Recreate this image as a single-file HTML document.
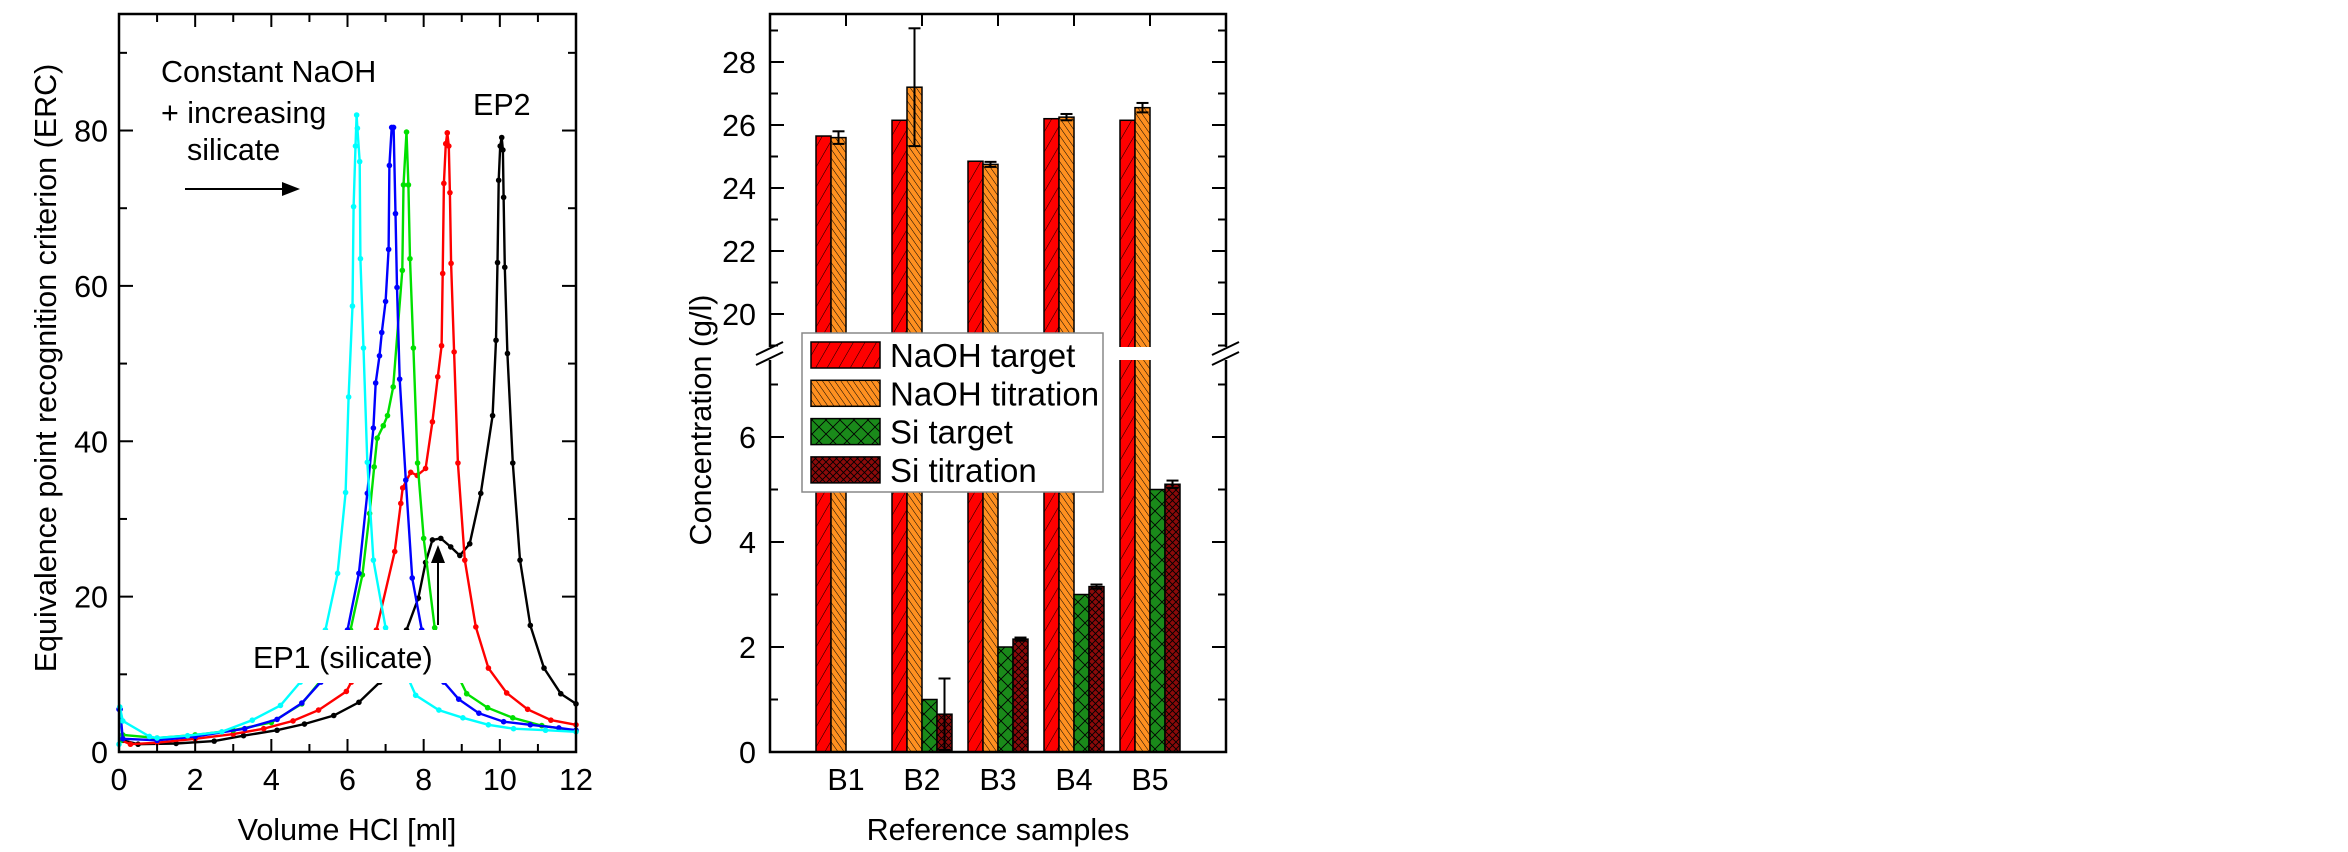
<!DOCTYPE html>
<html><head><meta charset="utf-8"><style>
html,body{margin:0;padding:0;background:#fff;}
svg{display:block;font-family:"Liberation Sans",Arial,sans-serif;}
</style></head><body>
<svg id="chart" width="2348" height="852" viewBox="0 0 2348 852" xmlns="http://www.w3.org/2000/svg">
<defs>
<pattern id="pRed" patternUnits="userSpaceOnUse" width="10" height="10" patternTransform="rotate(30)"><rect width="10" height="10" fill="#ff0000"/><line x1="0" y1="0" x2="0" y2="10" stroke="#000" stroke-width="1"/></pattern>
<pattern id="pOr" patternUnits="userSpaceOnUse" width="5" height="5" patternTransform="rotate(-35)"><rect width="5" height="5" fill="#ff9020"/><line x1="0" y1="0" x2="0" y2="5" stroke="#000" stroke-width="1"/></pattern>
<pattern id="pGr" patternUnits="userSpaceOnUse" width="14" height="14"><rect width="14" height="14" fill="#1a8a1a"/><path d="M0 0L14 14M14 0L0 14" stroke="#000" stroke-width="0.9"/></pattern>
<pattern id="pDr" patternUnits="userSpaceOnUse" width="7" height="7"><rect width="7" height="7" fill="#8b0a0a"/><path d="M0 0L7 7M7 0L0 7" stroke="#000" stroke-width="0.9"/></pattern>
</defs>
<g id="left"></g>
<g id="right"></g>
</svg>
<script>
const NS='http://www.w3.org/2000/svg';
// ---- Left chart data ----
const cyanX=[0,0.02,0.1,0.8,1.0,1.8,2.7,3.5,4.24,4.76,5.42,5.74,5.95,6.03,6.13,6.16,6.21,6.24,6.26,6.32,6.34,6.42,6.52,6.68,7.0,7.79,8.4,9.03,9.7,10.36,11.2,12];
const cyanY=[1,5.8,4.0,2.0,1.8,2.1,2.6,4.1,6.0,9.0,15.7,23,33.4,45.7,57.4,70.2,78,82,80.3,76,63.5,52,37.3,24.7,16,7.3,5.4,4.4,3.5,3.0,2.8,2.6];
const blueX=[0,0.03,0.1,1.0,2.0,3.3,4.15,4.8,5.3,6.0,6.3,6.52,6.68,6.74,6.84,6.9,7.0,7.08,7.1,7.16,7.21,7.26,7.3,7.37,7.53,7.7,7.95,8.53,8.92,9.45,10.1,10.8,11.55,12];
const blueY=[5.5,5.5,1.7,1.5,2.0,3.0,4.2,6.3,9,15.7,23,33.3,41.7,47.5,51,54,58,64.7,75.5,80.4,80.4,69.3,59.8,48,35,22.4,15.7,9,6.8,5,3.9,3.5,3.1,2.8];
const greenX=[0.05,0.1,1.0,2.0,3.0,4.0,4.8,5.3,6.08,6.39,6.58,6.7,6.78,6.94,7.05,7.2,7.44,7.47,7.55,7.6,7.64,7.73,7.84,8.0,8.29,9.13,9.68,10.34,11.1,12];
const greenY=[1.5,2.2,1.8,2.2,2.8,3.8,6.2,9.2,15.7,22.8,30.7,36.7,40.4,42,43.3,47,62,73,79.8,73,63.5,52,37.2,27.5,16,7.5,5.7,4.4,3.4,2.7];
const redX=[0.05,0.3,1.0,2.0,3.0,3.8,4.57,5.24,5.97,6.1,6.76,7.24,7.4,7.45,7.66,7.83,8.05,8.23,8.37,8.47,8.5,8.53,8.58,8.62,8.66,8.69,8.72,8.8,8.9,9.08,9.37,9.7,10.18,10.73,11.34,12];
const redY=[1.5,1.0,1.2,1.7,2.3,3.0,4.0,5.4,7.8,9,15.7,25.8,32,34,36,35.6,36.5,42.5,48.3,52.3,61.6,73.2,78.3,79.7,78,72,62.9,51.5,37.2,24.7,16.1,10.8,7.6,5.5,4.1,3.5];
const blackX=[0.1,0.5,1.5,2.5,3.27,4.15,4.87,5.64,6.3,6.85,7.55,7.86,8.05,8.23,8.45,8.71,8.95,9.21,9.5,9.81,9.9,9.94,9.97,10.01,10.05,10.08,10.1,10.13,10.2,10.34,10.53,10.8,11.16,11.6,12];
const blackY=[1.5,1.0,1.1,1.4,2.1,2.8,3.6,4.7,6.4,9,15.7,19.8,24.4,27.3,27.5,26.4,25.3,26.8,33.3,43.3,53,63,73.6,78,79.1,77.5,71.4,62.4,51.3,37.2,24.7,16.3,10.8,7.5,6.2];
const xTicksL=[0,2,4,6,8,10,12];
const yTicksL=[0,20,40,60,80];
// ---- Right chart data ----
const samples=['B1','B2','B3','B4','B5'];
const naohTarget=[25.65,26.15,24.85,26.2,26.15];
const naohTitr=[25.6,27.2,24.75,26.25,26.55];
const naohTitrErr=[0.2,1.87,0.08,0.1,0.15];
const siTarget=[0,1.0,2.0,3.0,5.0];
const siTitr=[0,0.72,2.15,3.15,5.1];
const siTitrErr=[0,0.68,0.03,0.04,0.07];
const yTicksUpper=[20,22,24,26,28];
const yTicksLower=[0,2,4,6];

const FS=30.5;
function el(tag,attrs,parent,text){const e=document.createElementNS(NS,tag);for(const k in attrs)e.setAttribute(k,attrs[k]);if(text!==undefined)e.textContent=text;parent.appendChild(e);return e;}

// ===== LEFT =====
const L=document.getElementById('left');
const X0=119,X1=576,Y0=752,Y1=14;
const xs=v=>X0+v*(X1-X0)/12;
const ys=v=>Y0-v*(Y0-Y1)/95;
const series=[[blackX,blackY,'#000000','black'],[redX,redY,'#ff0000','red'],[greenX,greenY,'#00e000','green'],[blueX,blueY,'#0000ff','blue'],[cyanX,cyanY,'#00ffff','cyan']];
series.forEach(s=>{
  const g=el('g',{},L);
  
  
  const pts=s[0].map((x,i)=>xs(x).toFixed(1)+','+ys(s[1][i]).toFixed(1)).join(' ');
  el('polyline',{points:pts,fill:'none',stroke:s[2],'stroke-width':2.4},g);
  s[0].forEach((x,i)=>{el('circle',{cx:xs(x),cy:ys(s[1][i]),r:2.8,fill:s[2]},g);});
});
const fr=el('rect',{x:X0,y:Y1,width:X1-X0,height:Y0-Y1,fill:'none',stroke:'#000','stroke-width':2.5},L);

for(let v=0;v<=12;v++){const big=v%2===0,len=big?13:8;
  el('line',{x1:xs(v),y1:Y0,x2:xs(v),y2:Y0-len,stroke:'#000','stroke-width':2},L);
  el('line',{x1:xs(v),y1:Y1,x2:xs(v),y2:Y1+len,stroke:'#000','stroke-width':2},L);}
for(let v=0;v<=90;v+=10){const big=v%20===0,len=big?14:8;
  el('line',{x1:X0,y1:ys(v),x2:X0+len,y2:ys(v),stroke:'#000','stroke-width':2},L);
  el('line',{x1:X1,y1:ys(v),x2:X1-len,y2:ys(v),stroke:'#000','stroke-width':2},L);}
xTicksL.forEach(v=>{const t=el('text',{x:xs(v),y:790,'font-size':FS,'text-anchor':'middle'},L,String(v));});
yTicksL.forEach(v=>{const t=el('text',{x:108,y:ys(v)+11,'font-size':FS,'text-anchor':'end'},L,String(v));});
let t=el('text',{x:347,y:840,'font-size':FS,'text-anchor':'middle'},L,'Volume HCl [ml]');
t=el('text',{x:0,y:0,'font-size':FS,'text-anchor':'middle',transform:'translate(56,368) rotate(-90)'},L,'Equivalence point recognition criterion (ERC)');
const ann=el('g',{},L);
el('text',{x:161,y:82,'font-size':FS},ann,'Constant NaOH');
el('text',{x:161,y:123,'font-size':FS},ann,'+ increasing');
el('text',{x:187,y:160,'font-size':FS},ann,'silicate');
el('line',{x1:185,y1:189,x2:285,y2:189,stroke:'#000','stroke-width':2},ann);
el('polygon',{points:'300,189 282,182 282,196',fill:'#000'},ann);
t=el('text',{x:473,y:115,'font-size':FS},L,'EP2');
const ep1=el('g',{},L);
el('rect',{x:247,y:630,width:216,height:53,fill:'#fff'},ep1);
el('text',{x:253,y:668,'font-size':FS},ep1,'EP1 (silicate)');
el('line',{x1:438,y1:625,x2:438,y2:562,stroke:'#000','stroke-width':2},ep1);
el('polygon',{points:'438,545 431,563 445,563',fill:'#000'},ep1);

// ===== RIGHT =====
const R=document.getElementById('right');
const RX0=770,RX1=1226,RY0=752,RY1=14;
const rx=i=>RX0+i*(RX1-RX0)/6;
const ry=v=>v<=7.56?RY0-v*52.5:314-(Math.max(v,18.7)-20)*31.5;
const bw=15;
const groups=[[naohTarget,'url(#pRed)','naoh-target',null],[naohTitr,'url(#pOr)','naoh-titration',naohTitrErr],[siTarget,'url(#pGr)','si-target',null],[siTitr,'url(#pDr)','si-titration',siTitrErr]];
samples.forEach((s,i)=>{
  const c=rx(i+1);
  groups.forEach((g,k)=>{
    const v=g[0][i];if(v<=0)return;
    const x=c-30+k*bw,y=ry(v);
    const b=el('rect',{x:x,y:y,width:bw,height:RY0-y,fill:g[1],stroke:'#000','stroke-width':1.5},R);
    
    
    if(g[3]&&g[3][i]>0){const e=g[3][i],cx=x+bw/2,yt=ry(v+e),yb=ry(v-e);
      const eg=el('g',{stroke:'#000','stroke-width':2},R);
      
      
      el('line',{x1:cx,y1:yt,x2:cx,y2:yb},eg);
      el('line',{x1:cx-6,y1:yt,x2:cx+6,y2:yt},eg);
      el('line',{x1:cx-6,y1:yb,x2:cx+6,y2:yb},eg);}
  });
  const lt=el('text',{x:c,y:790,'font-size':FS,'text-anchor':'middle'},R,s);
  
});
el('rect',{x:RX0-2,y:347,width:RX1-RX0+4,height:13,fill:'#fff'},R);
const rf=el('g',{stroke:'#000','stroke-width':2.5,fill:'none'},R);
el('path',{d:`M${RX0},347 V${RY1} H${RX1} V347 M${RX0},360 V${RY0} H${RX1} V360`},rf);
[RX0,RX1].forEach(x=>{const bm=el('g',{stroke:'#000','stroke-width':2},R);
  el('line',{x1:x-14,y1:355,x2:x+13,y2:342},bm);el('line',{x1:x-14,y1:365,x2:x+13,y2:352},bm);});
for(let v=19;v<=29;v++){const big=v%2===0,len=big?14:8;
  el('line',{x1:RX0,y1:ry(v),x2:RX0+len,y2:ry(v),stroke:'#000','stroke-width':2},R);
  el('line',{x1:RX1,y1:ry(v),x2:RX1-len,y2:ry(v),stroke:'#000','stroke-width':2},R);}
for(let v=0;v<=7;v++){const big=v%2===0,len=big?14:8;
  el('line',{x1:RX0,y1:ry(v),x2:RX0+len,y2:ry(v),stroke:'#000','stroke-width':2},R);
  el('line',{x1:RX1,y1:ry(v),x2:RX1-len,y2:ry(v),stroke:'#000','stroke-width':2},R);}
for(let i=1;i<=5;i++)el('line',{x1:rx(i),y1:RY1,x2:rx(i),y2:RY1+12,stroke:'#000','stroke-width':2},R);
yTicksUpper.concat(yTicksLower).forEach(v=>{const tt=el('text',{x:756,y:ry(v)+11,'font-size':FS,'text-anchor':'end'},R,String(v));});
t=el('text',{x:998,y:840,'font-size':FS,'text-anchor':'middle'},R,'Reference samples');
t=el('text',{x:0,y:0,'font-size':FS,'text-anchor':'middle',transform:'translate(711,420) rotate(-90)'},R,'Concentration (g/l)');
const lg=el('g',{},R);
el('rect',{x:802,y:333,width:301,height:159,fill:'#fff',stroke:'#888','stroke-width':1.5},lg);
const legNames=['NaOH target','NaOH titration','Si target','Si titration'];
legNames.forEach((n,k)=>{const cy=355+k*38.3;
  const e=el('g',{},lg);
  el('rect',{x:811,y:cy-13,width:69,height:26,fill:groups[k][1],stroke:'#000','stroke-width':1.5},e);
  el('text',{x:890,y:cy+12,'font-size':33},e,n);});
</script>
</body></html>
